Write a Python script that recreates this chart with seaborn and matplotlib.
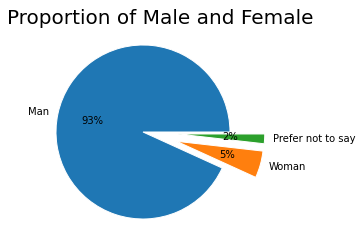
import matplotlib
matplotlib.use("Agg")
import matplotlib.pyplot as plt
import seaborn as sns

labels = ["Man", "Woman", "Prefer not to say"]
values = [93.2, 5.0, 1.8]
explode = [0.0, 0.4, 0.4]

sns.set_style("white")
plt.rcParams["text.color"] = "black"
colors = sns.color_palette("tab10", 3)

W, H = 363, 252
fig = plt.figure(figsize=(W / 72, H / 72), dpi=72)
cx, cy, r = 143, 132, 87
size = 2.5 * r
ax = fig.add_axes([(cx - size / 2) / W, (H - cy - size / 2) / H, size / W, size / H])
ax.pie(values, labels=labels, explode=explode, colors=colors, autopct="%1.0f%%",
       textprops={"fontsize": 10, "color": "black"})
ax.set_aspect("equal")
fig.text(160 / W, (H - 24) / H, "Proportion of Male and Female", fontsize=20,
         ha="center", va="baseline", color="black")
fig.savefig("out.png", dpi=72, facecolor="white")
